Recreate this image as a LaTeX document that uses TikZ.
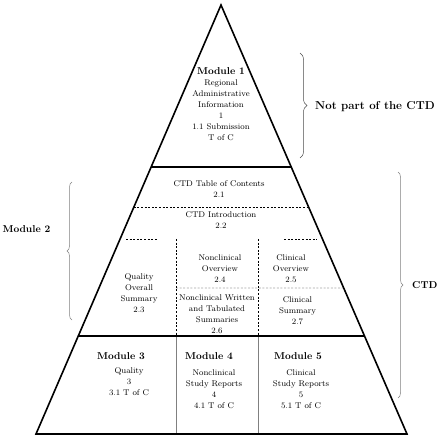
\documentclass[tikz,border=0pt]{standalone}
\usepackage{tikz}
\usetikzlibrary{calc,positioning,decorations.pathreplacing}

\begin{document}
\begin{tikzpicture}[x=1pt, y=-1pt,
    txt/.style={font=\fontsize{8.3}{11}\selectfont, align=center, inner sep=0pt},
    modhead/.style={font=\fontsize{10}{12}\selectfont\bfseries, inner sep=0pt},
    sidelabel/.style={font=\fontsize{10}{12}\selectfont\bfseries, inner sep=0pt},
    dashline/.style={line width=0.4pt, dash pattern=on 2pt off 1.6pt},
    bracegray/.style={line width=0.5pt, decorate, decoration={brace, amplitude=5pt}}]
  \useasboundingbox (0,0) rectangle (445,441);

  % ── Pyramid corners and section edges ──
  \coordinate (apex) at (221,5);
  \coordinate (bl) at (36,434);
  \coordinate (br) at (407,434);
  \coordinate (m1l) at ($(apex)!0.3776!(bl)$);
  \coordinate (m1r) at ($(apex)!0.3776!(br)$);
  \coordinate (introl) at ($(apex)!0.4709!(bl)$);
  \coordinate (intror) at ($(apex)!0.4709!(br)$);
  \coordinate (sumr) at ($(apex)!0.6597!(br)$);
  \coordinate (m3l) at ($(apex)!0.7716!(bl)$);
  \coordinate (m3r) at ($(apex)!0.7716!(br)$);

  % Module 2 inner grid
  \draw[dashline] (introl) -- (intror);
  \draw[dashline] (126,239) -- (158,239);
  \draw[dashline] (284,239) -- (317,239);
  \draw[dashline] (176,239) -- (176,336);
  \draw[dashline] (258,239) -- (258,336);
  \draw[dashline] (176,288) -- (sumr);

  % Modules 3--5 columns
  \draw[gray, line width=0.6pt] (176,336) -- (176,434);
  \draw[gray, line width=0.6pt] (258,336) -- (258,434);

  % Outline and thick separators
  \draw[line width=2.4pt] (m1l) -- (m1r);
  \draw[line width=2.6pt] (m3l) -- (m3r);
  \draw[line width=1.6pt, line join=miter] (apex) -- (bl) -- (br) -- cycle;

  % ── Module 1 ──
  \node[modhead] (m1head) at (221,71) {Module 1};
  \node[txt] (m1body) at (221,110.5)
    {Regional\\Administrative\\Information\\1\\1.1 Submission\\T of C};

  % ── Module 2 ──
  \node[txt] (toc) at (219,189.5) {CTD Table of Contents\\2.1};
  \node[txt] (intro) at (221,220.5) {CTD Introduction\\2.2};
  \node[txt] (qos) at (139,293.5) {Quality\\Overall\\Summary\\2.3};
  \node[txt] (ncover) at (220,269) {Nonclinical\\Overview\\2.4};
  \node[txt] (clover) at (291,269) {Clinical\\Overview\\2.5};
  \node[txt] (ncsum) at (217,314.5) {Nonclinical Written\\and Tabulated\\Summaries\\2.6};
  \node[txt] (clsum) at (297.5,310.5) {Clinical\\Summary\\2.7};

  % ── Modules 3, 4, 5 ──
  \node[modhead] (m3head) at (121,356) {Module 3};
  \node[txt] (m3body) at (129,382) {Quality\\3\\3.1 T of C};
  \node[modhead] (m4head) at (209,356) {Module 4};
  \node[txt] (m4body) at (214,389) {Nonclinical\\Study Reports\\4\\4.1 T of C};
  \node[modhead] (m5head) at (298,356) {Module 5};
  \node[txt] (m5body) at (301,389) {Clinical\\Study Reports\\5\\5.1 T of C};

  % ── Side braces ──
  \coordinate (nptop) at (300,53);
  \coordinate (npbot) at (300,158);
  \draw[bracegray, black!70, decoration={amplitude=7pt}] (nptop) -- (npbot);
  \node[sidelabel, font=\fontsize{11.5}{13}\selectfont\bfseries, anchor=west] (notctd) at (315,107) {Not part of the CTD};

  \coordinate (m2top) at (72,182);
  \coordinate (m2bot) at (72,320);
  \draw[bracegray, gray] (m2bot) -- (m2top);
  \node[sidelabel] (m2label) at (26.5,229) {Module 2};

  \coordinate (ctdtop) at (398,172);
  \coordinate (ctdbot) at (398,398);
  \draw[bracegray, gray] (ctdtop) -- (ctdbot);
  \node[sidelabel, anchor=west] (ctdlabel) at (412,285) {CTD};
\end{tikzpicture}
\end{document}
